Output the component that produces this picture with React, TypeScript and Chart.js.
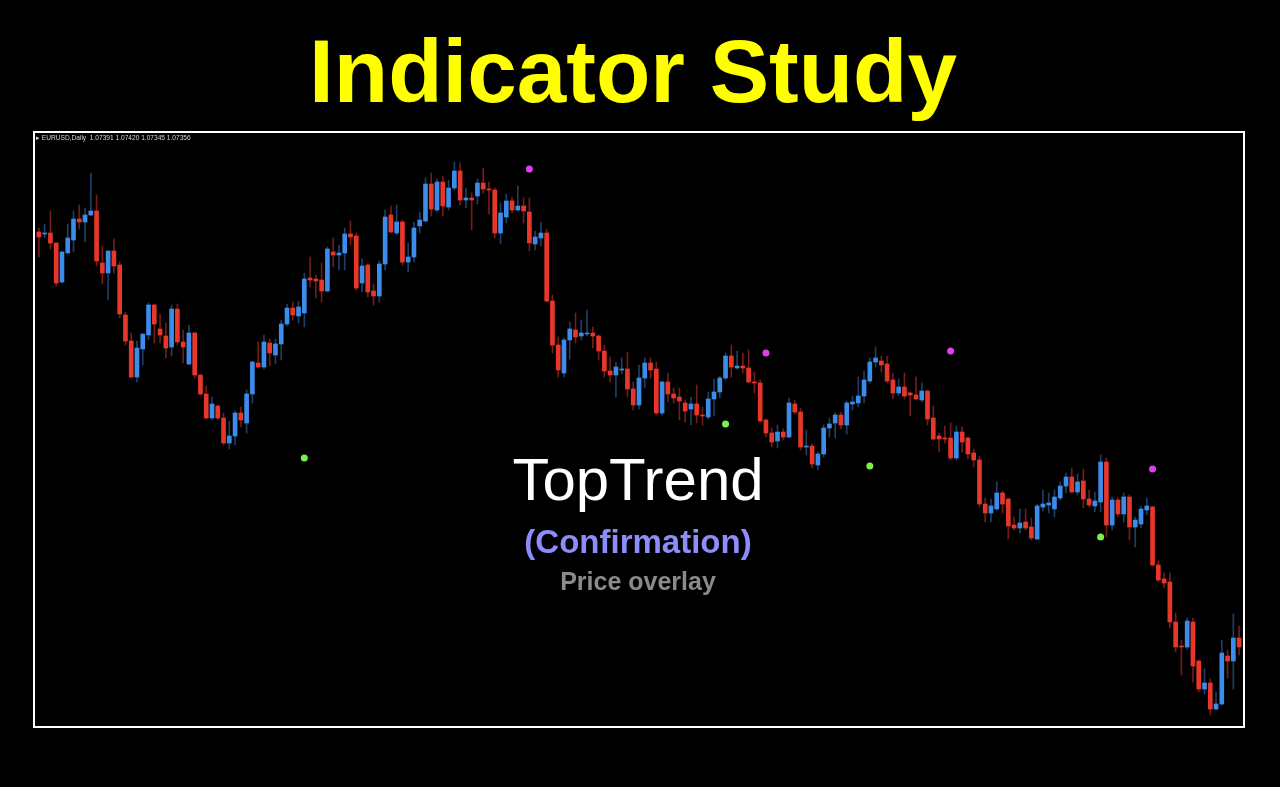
import React, { useEffect, useRef } from "react";
import { Chart, registerables } from "chart.js";

Chart.register(...registerables);

const chartTitle = "Indicator Study";
const symbolInfo = "EURUSD,Daily";
const headerQuote = ["1.07391", "1.07420", "1.07345", "1.07356"];
const overlayName = "TopTrend";
const overlayRole = "(Confirmation)";
const overlayKind = "Price overlay";

const openPrices = [
  1.1151, 1.1149, 1.1150, 1.1140, 1.1101, 1.1130, 1.1143, 1.1164, 1.1161, 1.1168,
  1.1172, 1.1120, 1.1110, 1.1132, 1.1118, 1.1068, 1.1042, 1.1006, 1.1034, 1.1048,
  1.1078, 1.1054, 1.1047, 1.1036, 1.1074, 1.1041, 1.1019, 1.1050, 1.1008, 1.0989,
  1.0965, 1.0977, 1.0965, 1.0940, 1.0947, 1.0970, 1.0960, 1.0989, 1.1020, 1.1016,
  1.1040, 1.1028, 1.1039, 1.1059, 1.1075, 1.1067, 1.1070, 1.1105, 1.1104, 1.1103,
  1.1092, 1.1131, 1.1128, 1.1130, 1.1149, 1.1147, 1.1100, 1.1118, 1.1092, 1.1087,
  1.1119, 1.1168, 1.1150, 1.1161, 1.1121, 1.1126, 1.1157, 1.1162, 1.1199, 1.1173,
  1.1201, 1.1176, 1.1195, 1.1212, 1.1183, 1.1185, 1.1187, 1.1200, 1.1194, 1.1193,
  1.1150, 1.1166, 1.1182, 1.1173, 1.1177, 1.1171, 1.1139, 1.1145, 1.1150, 1.1082,
  1.1038, 1.1010, 1.1043, 1.1053, 1.1047, 1.1049, 1.1050, 1.1047, 1.1032, 1.1012,
  1.1008, 1.1013, 1.1014, 1.0994, 1.0978, 1.1005, 1.1020, 1.1014, 1.0970, 1.1001,
  1.0989, 1.0986, 1.0980, 1.0974, 1.0979, 1.0968, 1.0966, 1.0984, 1.0991, 1.1005,
  1.1027, 1.1015, 1.1017, 1.1015, 1.1001, 1.1000, 1.0963, 1.0950, 1.0942, 1.0951,
  1.0946, 1.0979, 1.0971, 1.0936, 1.0937, 1.0918, 1.0929, 1.0955, 1.0960, 1.0968,
  1.0958, 1.0979, 1.0980, 1.0987, 1.1002, 1.1021, 1.1022, 1.1019, 1.1003, 1.0990,
  1.0996, 1.0990, 1.0988, 1.0983, 1.0992, 1.0965, 1.0947, 1.0945, 1.0945, 1.0925,
  1.0951, 1.0945, 1.0930, 1.0923, 1.0879, 1.0870, 1.0874, 1.0890, 1.0884, 1.0858,
  1.0855, 1.0861, 1.0856, 1.0844, 1.0876, 1.0878, 1.0874, 1.0885, 1.0897, 1.0906,
  1.0891, 1.0902, 1.0884, 1.0877, 1.0881, 1.0921, 1.0858, 1.0883, 1.0869, 1.0886,
  1.0856, 1.0859, 1.0873, 1.0876, 1.0818, 1.0804, 1.0801, 1.0761, 1.0737, 1.0736,
  1.0761, 1.0722, 1.0694, 1.0700, 1.0674, 1.0679, 1.0727, 1.0722, 1.0745,
];

const highPrices = [
  1.1155, 1.1159, 1.1172, 1.1140, 1.1132, 1.1159, 1.1172, 1.1178, 1.1175, 1.1210,
  1.1188, 1.1137, 1.1132, 1.1144, 1.1121, 1.1071, 1.1050, 1.1042, 1.1049, 1.1080,
  1.1079, 1.1069, 1.1060, 1.1078, 1.1079, 1.1053, 1.1058, 1.1051, 1.1008, 1.0997,
  1.0986, 1.0978, 1.0970, 1.0962, 1.0972, 1.0976, 1.0993, 1.1022, 1.1041, 1.1048,
  1.1044, 1.1044, 1.1063, 1.1079, 1.1081, 1.1082, 1.1110, 1.1126, 1.1108, 1.1120,
  1.1136, 1.1145, 1.1138, 1.1155, 1.1162, 1.1150, 1.1124, 1.1119, 1.1099, 1.1122,
  1.1173, 1.1177, 1.1178, 1.1163, 1.1140, 1.1161, 1.1171, 1.1205, 1.1210, 1.1204,
  1.1207, 1.1203, 1.1221, 1.1220, 1.1195, 1.1190, 1.1204, 1.1215, 1.1201, 1.1195,
  1.1180, 1.1189, 1.1186, 1.1197, 1.1185, 1.1185, 1.1152, 1.1161, 1.1154, 1.1088,
  1.1046, 1.1045, 1.1061, 1.1070, 1.1063, 1.1073, 1.1056, 1.1048, 1.1038, 1.1026,
  1.1021, 1.1025, 1.1031, 1.1001, 1.1018, 1.1025, 1.1025, 1.1021, 1.1002, 1.1010,
  1.0995, 1.0995, 1.0983, 1.0986, 1.0998, 1.0976, 1.0991, 1.1004, 1.1007, 1.1030,
  1.1038, 1.1032, 1.1030, 1.1033, 1.1011, 1.1003, 1.0964, 1.0955, 1.0958, 1.0954,
  1.0985, 1.0983, 1.0975, 1.0953, 1.0939, 1.0931, 1.0958, 1.0965, 1.0970, 1.0971,
  1.0982, 1.0987, 1.1006, 1.1012, 1.1025, 1.1036, 1.1027, 1.1027, 1.1010, 1.1004,
  1.1010, 1.0991, 1.1006, 1.1000, 1.0993, 1.0977, 1.0950, 1.0957, 1.0960, 1.0957,
  1.0956, 1.0946, 1.0934, 1.0927, 1.0885, 1.0884, 1.0901, 1.0892, 1.0885, 1.0866,
  1.0874, 1.0874, 1.0865, 1.0879, 1.0893, 1.0890, 1.0893, 1.0901, 1.0910, 1.0915,
  1.0909, 1.0914, 1.0893, 1.0891, 1.0928, 1.0925, 1.0886, 1.0886, 1.0890, 1.0888,
  1.0866, 1.0877, 1.0885, 1.0877, 1.0822, 1.0810, 1.0810, 1.0770, 1.0743, 1.0765,
  1.0765, 1.0723, 1.0714, 1.0704, 1.0691, 1.0743, 1.0733, 1.0769, 1.0757,
];

const lowPrices = [
  1.1126, 1.1145, 1.1134, 1.1097, 1.1100, 1.1130, 1.1131, 1.1154, 1.1141, 1.1167,
  1.1117, 1.1099, 1.1083, 1.1110, 1.1065, 1.1038, 1.1005, 1.1001, 1.1018, 1.1043,
  1.1040, 1.1040, 1.1025, 1.1027, 1.1038, 1.1020, 1.1018, 1.1005, 1.0988, 1.0964,
  1.0963, 1.0963, 1.0938, 1.0934, 1.0938, 1.0956, 1.0950, 1.0980, 1.1015, 1.1014,
  1.1017, 1.1019, 1.1023, 1.1057, 1.1063, 1.1060, 1.1056, 1.1096, 1.1085, 1.1081,
  1.1091, 1.1116, 1.1113, 1.1113, 1.1138, 1.1093, 1.1091, 1.1086, 1.1078, 1.1081,
  1.1113, 1.1150, 1.1148, 1.1118, 1.1111, 1.1121, 1.1150, 1.1161, 1.1167, 1.1171,
  1.1167, 1.1173, 1.1193, 1.1178, 1.1175, 1.1153, 1.1179, 1.1190, 1.1169, 1.1145,
  1.1139, 1.1160, 1.1170, 1.1172, 1.1160, 1.1132, 1.1133, 1.1137, 1.1081, 1.1030,
  1.1006, 1.1006, 1.1024, 1.1040, 1.1043, 1.1047, 1.1035, 1.1023, 1.1006, 1.1001,
  1.0986, 1.1009, 1.0986, 1.0973, 1.0974, 1.0995, 1.1005, 1.0968, 1.0968, 1.0981,
  1.0980, 1.0963, 1.0961, 1.0958, 1.0960, 1.0958, 1.0964, 1.0967, 1.0985, 1.1003,
  1.1006, 1.1014, 1.1010, 1.1000, 1.0990, 1.0961, 1.0946, 1.0936, 1.0935, 1.0943,
  1.0945, 1.0969, 1.0933, 1.0928, 1.0915, 1.0913, 1.0926, 1.0946, 1.0945, 1.0954,
  1.0949, 1.0973, 1.0976, 1.0980, 1.1000, 1.1016, 1.1011, 1.1000, 1.0984, 1.0987,
  1.0984, 1.0967, 1.0983, 1.0981, 1.0958, 1.0943, 1.0931, 1.0940, 1.0923, 1.0923,
  1.0931, 1.0924, 1.0916, 1.0876, 1.0861, 1.0861, 1.0873, 1.0870, 1.0844, 1.0853,
  1.0850, 1.0853, 1.0843, 1.0843, 1.0872, 1.0870, 1.0866, 1.0883, 1.0890, 1.0890,
  1.0888, 1.0875, 1.0876, 1.0871, 1.0871, 1.0846, 1.0853, 1.0866, 1.0861, 1.0843,
  1.0836, 1.0855, 1.0868, 1.0817, 1.0801, 1.0795, 1.0755, 1.0731, 1.0708, 1.0734,
  1.0701, 1.0691, 1.0689, 1.0668, 1.0673, 1.0678, 1.0705, 1.0694, 1.0728,
];

const closePrices = [
  1.1146, 1.1150, 1.1140, 1.1100, 1.1131, 1.1145, 1.1164, 1.1161, 1.1168, 1.1172,
  1.1122, 1.1110, 1.1132, 1.1117, 1.1069, 1.1042, 1.1006, 1.1035, 1.1049, 1.1078,
  1.1059, 1.1048, 1.1035, 1.1074, 1.1041, 1.1036, 1.1050, 1.1008, 1.0989, 1.0965,
  1.0979, 1.0965, 1.0940, 1.0947, 1.0970, 1.0963, 1.0989, 1.1021, 1.1016, 1.1041,
  1.1030, 1.1039, 1.1059, 1.1075, 1.1068, 1.1076, 1.1104, 1.1103, 1.1102, 1.1092,
  1.1134, 1.1128, 1.1130, 1.1149, 1.1146, 1.1095, 1.1117, 1.1091, 1.1087, 1.1119,
  1.1166, 1.1151, 1.1161, 1.1121, 1.1126, 1.1155, 1.1163, 1.1199, 1.1174, 1.1201,
  1.1177, 1.1195, 1.1212, 1.1183, 1.1185, 1.1183, 1.1200, 1.1194, 1.1193, 1.1150,
  1.1170, 1.1182, 1.1173, 1.1177, 1.1172, 1.1140, 1.1146, 1.1150, 1.1082, 1.1038,
  1.1013, 1.1043, 1.1054, 1.1046, 1.1050, 1.1050, 1.1047, 1.1032, 1.1012, 1.1008,
  1.1016, 1.1014, 1.0994, 1.0978, 1.1005, 1.1020, 1.1013, 1.0970, 1.1001, 1.0989,
  1.0985, 1.0982, 1.0972, 1.0979, 1.0968, 1.0967, 1.0984, 1.0991, 1.1005, 1.1027,
  1.1016, 1.1017, 1.1015, 1.1001, 1.1000, 1.0962, 1.0950, 1.0941, 1.0951, 1.0946,
  1.0980, 1.0971, 1.0936, 1.0937, 1.0919, 1.0929, 1.0955, 1.0959, 1.0968, 1.0958,
  1.0980, 1.0981, 1.0987, 1.1003, 1.1021, 1.1025, 1.1018, 1.1002, 1.0990, 1.0996,
  1.0987, 1.0988, 1.0984, 1.0992, 1.0964, 1.0944, 1.0944, 1.0944, 1.0925, 1.0951,
  1.0941, 1.0929, 1.0923, 1.0879, 1.0870, 1.0877, 1.0890, 1.0879, 1.0857, 1.0855,
  1.0860, 1.0855, 1.0845, 1.0877, 1.0879, 1.0880, 1.0886, 1.0897, 1.0906, 1.0891,
  1.0901, 1.0884, 1.0878, 1.0882, 1.0921, 1.0858, 1.0883, 1.0869, 1.0886, 1.0856,
  1.0863, 1.0874, 1.0877, 1.0818, 1.0803, 1.0800, 1.0761, 1.0736, 1.0736, 1.0762,
  1.0717, 1.0694, 1.0700, 1.0674, 1.0679, 1.0730, 1.0722, 1.0745, 1.0736,
];

// TopTrend confirmation signals (bar index, price)
const sellSignalIdx = [85, 126, 158, 193];
const sellSignalVal = [1.1214, 1.103, 1.1032, 1.0914];
const buySignalIdx = [46, 119, 144, 184];
const buySignalVal = [1.0925, 1.0959, 1.0917, 1.0846];

const PRICE_MIN = 1.0655;
const PRICE_MAX = 1.1252;

const BULL_BODY = "#3c8cec";
const BEAR_BODY = "#e7372a";
const BULL_WICK = "#1f3e63";
const BEAR_WICK = "#741c16";
const SELL_DOT = "#e23cf2";
const BUY_DOT = "#78f04e";

const W = 1280;
const H = 787;

const framePlugin = {
  id: "frame",
  afterDraw(chart: any) {
    const ctx = chart.ctx;
    ctx.save();
    ctx.strokeStyle = "#ffffff";
    ctx.lineWidth = 2;
    ctx.strokeRect(34, 132, 1210, 595);
    ctx.restore();
  },
};

function Label(props: {
  text: string;
  cx: number;
  baseline: number;
  size: number;
  weight: number;
  color: string;
}) {
  const { text, cx, baseline, size, weight, color } = props;
  return (
    <div
      style={{
        position: "absolute",
        left: cx - 600,
        width: 1200,
        top: baseline - 0.8465 * size,
        height: size,
        lineHeight: `${size}px`,
        fontSize: size,
        fontWeight: weight,
        color,
        fontFamily: '"Liberation Sans", Arial, sans-serif',
        textAlign: "center",
        whiteSpace: "nowrap",
        pointerEvents: "none",
      }}
    >
      {text}
    </div>
  );
}

export default function App() {
  const canvasRef = useRef<HTMLCanvasElement | null>(null);

  useEffect(() => {
    const canvas = canvasRef.current;
    if (!canvas) return;
    const n = Math.min(
      openPrices.length,
      highPrices.length,
      lowPrices.length,
      closePrices.length
    );
    const labels = Array.from({ length: n }, (_, i) => `D${i + 1}`);
    const isUp = (i: number) => closePrices[i] >= openPrices[i];
    const bodyData = labels.map((_, i) => [openPrices[i], closePrices[i]]);
    const wickData = labels.map((_, i) => [lowPrices[i], highPrices[i]]);
    const bodyColors = labels.map((_, i) => (isUp(i) ? BULL_BODY : BEAR_BODY));
    const wickColors = labels.map((_, i) => (isUp(i) ? BULL_WICK : BEAR_WICK));
    const sellDots: (number | null)[] = labels.map(() => null);
    sellSignalIdx.forEach((k, j) => {
      if (k < n) sellDots[k] = sellSignalVal[j];
    });
    const buyDots: (number | null)[] = labels.map(() => null);
    buySignalIdx.forEach((k, j) => {
      if (k < n) buyDots[k] = buySignalVal[j];
    });

    const chart = new Chart(canvas, {
      type: "bar",
      data: {
        labels,
        datasets: [
          {
            type: "line",
            data: sellDots,
            showLine: false,
            pointRadius: 3.5,
            pointBackgroundColor: SELL_DOT,
            pointBorderWidth: 0,
            borderWidth: 0,
            order: 0,
          } as any,
          {
            type: "line",
            data: buyDots,
            showLine: false,
            pointRadius: 3.5,
            pointBackgroundColor: BUY_DOT,
            pointBorderWidth: 0,
            borderWidth: 0,
            order: 0,
          } as any,
          {
            type: "bar",
            data: bodyData,
            backgroundColor: bodyColors,
            borderWidth: 0,
            barThickness: 4,
            grouped: false,
            order: 1,
          } as any,
          {
            type: "bar",
            data: wickData,
            backgroundColor: wickColors,
            borderWidth: 0,
            barThickness: 1,
            grouped: false,
            order: 2,
          } as any,
        ],
      },
      options: {
        responsive: false,
        animation: false,
        devicePixelRatio: 1,
        events: [],
        layout: { padding: { left: 36, right: 38, top: 131, bottom: 59 } },
        plugins: {
          legend: { display: false },
          tooltip: { enabled: false },
          title: { display: false },
        },
        scales: {
          x: { display: false, offset: true, grid: { display: false } },
          y: { display: false, min: PRICE_MIN, max: PRICE_MAX },
        },
      } as any,
      plugins: [framePlugin],
    });
    return () => chart.destroy();
  }, []);

  return (
    <div
      style={{
        position: "fixed",
        left: 0,
        top: 0,
        width: W,
        height: H,
        background: "#000000",
        overflow: "hidden",
      }}
    >
      <canvas
        ref={canvasRef}
        width={W}
        height={H}
        style={{ position: "absolute", left: 0, top: 0, width: W, height: H }}
      />
      <Label text={chartTitle} cx={633} baseline={102} size={89} weight={700} color="#ffff00" />
      <div
        style={{
          position: "absolute",
          left: 36,
          top: 134,
          fontSize: 6.6,
          lineHeight: "8px",
          color: "#d8d8d8",
          fontFamily: '"Liberation Sans", Arial, sans-serif',
          whiteSpace: "pre",
        }}
      >
        {"▸ " + symbolInfo + "  " + headerQuote.join(" ")}
      </div>
      <Label text={overlayName} cx={638} baseline={501} size={60} weight={400} color="#ffffff" />
      <Label text={overlayRole} cx={638} baseline={553} size={33} weight={700} color="#8c8cfa" />
      <Label text={overlayKind} cx={638} baseline={590} size={25} weight={700} color="#8a8a8a" />
    </div>
  );
}
